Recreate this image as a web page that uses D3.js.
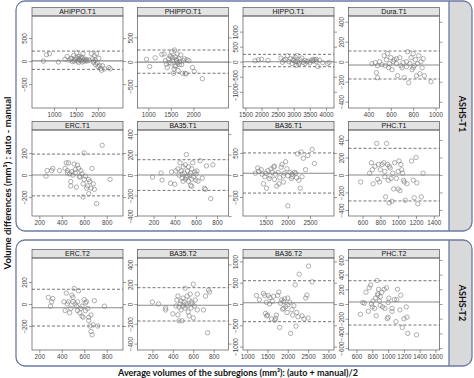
<!DOCTYPE html>
<html><head><meta charset="utf-8">
<script src="https://cdn.jsdelivr.net/npm/d3@7"></script>
<style>body{margin:0;background:#fff}svg{display:block}</style>
</head><body>
<svg id="c" width="474" height="378"></svg>
<script>
const panelNames = ["AHIPPO.T1","PHIPPO.T1","HIPPO.T1","Dura.T1","ERC.T1","BA35.T1","BA36.T1","PHC.T1","ERC.T2","BA35.T2","BA36.T2","PHC.T2"];
const groupLabels = ["ASHS-T1","ASHS-T2"];
const xDomains = [[500,2570],[760,2780],[1425,4250],[220,1036],[135,945],[48,908],[988,3042],[443,1464],[135,945],[54,945],[897,3137],[499,1651]];
const yDomains = [[-1020,980],[-953,940],[-1540,1520],[-463,457],[-373,409],[-400,440],[-930,1020],[-469,514],[-418,418],[-465,465],[-1080,1080],[-626,626]];
const xTickValues = [[1000,1500,2000],[1000,1500,2000],[1500,2000,2500,3000,3500,4000],[400,600,800,1000],[200,400,600,800],[200,400,600,800],[1500,2000,2500],[600,800,1000,1200,1400],[200,400,600,800],[200,400,600,800],[1000,1500,2000,2500,3000],[600,800,1000,1200,1400,1600]];
const yTickValues = [[-500,0,500],[-500,0,500],[-1000,-500,0,500,1000],[-400,-200,0,200,400],[-200,0,200],[-400,-200,0,200,400],[-500,0,500],[-400,-200,0,200,400],[-200,0,200],[-400,-200,0,200,400],[-1000,-500,0,500,1000],[-600,-400,-200,0,200,400,600]];
const meanDiff = [5,-10,0,-33,0,0,40,0,-34,-13,30,27];
const upperLoA = [217,240,245,107,190,150,500,305,134,165,547,317];
const lowerLoA = [-180,-238,-167,-173,-190,-150,-410,-297,-200,-172,-415,-286];

const ahippoT1 = [[760,0],[830,140],[900,160],[1100,-20],[1250,40],[1300,100],[1350,20],[1400,60],[1420,-10],[1450,120],[1480,30],[1500,80],[1520,180],[1540,0],[1550,50],[1570,100],[1580,20],[1600,60],[1620,10],[1640,-20],[1650,70],[1660,160],[1680,0],[1700,40],[1720,10],[1750,0],[1800,20],[1850,160],[1880,50],[1900,-30],[1920,120],[1940,20],[1950,-80],[1970,160],[1980,-40],[2000,-120],[2020,60],[2040,-100],[2060,-160],[2080,-200],[2100,-100],[2150,-170],[2250,-140],[2280,-170],[1560,-30],[1460,0],[1380,50],[1620,90],[1750,30],[1900,0]];
const phippoT1 = [[960,50],[1030,-100],[1150,80],[1300,150],[1350,160],[1380,20],[1400,-50],[1420,-120],[1450,60],[1480,120],[1500,-30],[1520,200],[1540,80],[1550,20],[1560,-240],[1580,240],[1600,100],[1610,-80],[1620,40],[1640,160],[1650,-20],[1660,-180],[1680,60],[1700,0],[1720,140],[1740,-60],[1760,-240],[1780,20],[1800,60],[1820,-240],[1840,-250],[1860,40],[1900,20],[1980,-120],[2020,-200],[2200,-350],[1570,-150],[1590,-100],[1630,20],[1690,-60],[1460,-20],[1500,100]];
const hippoT1 = [[1800,30],[1900,60],[2000,80],[2200,40],[2600,120],[2650,-20],[2700,50],[2750,80],[2800,200],[2850,0],[2900,100],[2950,-60],[3000,40],[3050,150],[3080,-120],[3100,200],[3120,0],[3150,-80],[3200,60],[3250,120],[3300,-20],[3350,40],[3400,0],[3450,20],[3500,-40],[3550,30],[3600,80],[3650,60],[3700,0],[3750,-160],[3800,50],[3900,-30],[4050,-60],[4100,-20],[3180,-40],[3050,0],[2980,80],[3350,-60],[3600,20],[3700,80]];
const duraT1 = [[430,-20],[460,-10],[480,-40],[470,-110],[480,-160],[500,0],[520,-30],[540,60],[550,-40],[560,20],[570,80],[580,-60],[590,-20],[600,40],[610,-80],[620,0],[630,20],[650,-20],[660,-140],[680,40],[690,-40],[700,-60],[710,-10],[720,-160],[740,-50],[750,100],[760,-210],[770,-20],[780,40],[790,-80],[800,80],[810,-40],[820,20],[830,-140],[840,-20],[850,60],[860,-120],[870,0],[880,-60],[890,30],[900,-140],[960,-200],[740,0],[800,-60],[650,30]];
const ercT1 = [[260,-10],[270,40],[310,40],[320,60],[380,40],[430,60],[440,110],[450,20],[460,110],[470,10],[480,-60],[490,30],[500,0],[510,100],[520,50],[530,-110],[540,90],[550,60],[560,-20],[570,40],[580,10],[590,-80],[600,200],[600,-40],[610,-10],[620,-120],[630,-100],[640,-40],[650,-60],[660,-120],[670,60],[680,-80],[690,-130],[710,-260],[760,270],[830,-40],[590,-200],[640,-170],[560,-10],[520,20],[480,-100],[450,40]];
const ba35T1 = [[190,-20],[270,20],[280,-50],[360,-80],[370,30],[400,-90],[410,40],[430,60],[440,0],[450,120],[460,40],[470,-30],[480,-60],[480,80],[490,20],[500,-40],[500,100],[510,200],[510,-20],[520,40],[530,-60],[530,80],[540,0],[550,-100],[550,20],[560,60],[560,-40],[570,120],[580,-20],[590,30],[600,-50],[610,40],[620,-60],[640,140],[660,-30],[680,-130],[690,-140],[700,90],[740,-230],[760,100],[470,10],[520,-10],[560,-110],[600,10]];
const ba36T1 = [[1270,40],[1320,160],[1340,80],[1400,120],[1420,20],[1450,-200],[1480,-40],[1500,40],[1520,-300],[1550,100],[1580,-80],[1600,-20],[1620,140],[1650,60],[1680,180],[1700,-100],[1720,20],[1750,-250],[1780,60],[1800,-200],[1820,-60],[1850,180],[1870,240],[1900,-20],[1920,40],[1950,300],[1980,140],[2000,-20],[2000,-700],[2050,60],[2080,-80],[2100,-40],[2150,60],[2180,40],[2200,-60],[2220,480],[2250,-120],[2280,-300],[2300,520],[2320,-40],[2350,380],[2400,120],[2450,440],[2550,580],[2600,260],[1700,200],[1900,-160],[2100,20]];
const phcT1 = [[580,-80],[680,20],[700,140],[710,60],[720,-100],[740,100],[760,360],[770,-50],[780,120],[790,-80],[800,60],[820,120],[840,140],[850,40],[860,-250],[870,360],[880,120],[890,-60],[900,-320],[910,80],[920,-40],[930,-300],[940,20],[950,-160],[960,140],[980,-40],[1000,-160],[1010,160],[1020,-180],[1030,120],[1040,60],[1050,20],[1060,-60],[1070,-80],[1080,-290],[1100,-100],[1150,160],[1170,-60],[1180,-260],[1200,200],[1210,-90],[1220,-330],[1260,-250],[1280,20],[900,100],[1000,40],[850,-20]];
const ercT2 = [[280,60],[300,-20],[310,20],[320,50],[420,20],[430,-60],[440,100],[450,0],[460,20],[470,-80],[480,-40],[490,80],[500,20],[510,140],[520,0],[530,-20],[540,20],[550,120],[560,-80],[570,-40],[580,-110],[590,-120],[600,40],[610,-60],[620,20],[630,-40],[640,-150],[650,-200],[660,-250],[670,-280],[680,-190],[690,30],[640,-120],[720,-200],[780,-20],[500,60],[580,-20],[610,10],[660,-100],[540,-60]];
const ba35T2 = [[200,20],[260,0],[330,-60],[330,-40],[400,-100],[430,-20],[440,40],[450,80],[460,-30],[470,0],[480,-60],[490,-170],[500,60],[500,-20],[510,20],[520,-40],[520,160],[530,0],[540,80],[550,-80],[560,40],[570,100],[580,-40],[590,0],[600,200],[600,-140],[610,-20],[620,40],[640,100],[640,-60],[700,-60],[720,80],[740,-290],[750,140],[760,120],[480,30],[540,-20],[560,-120],[580,20],[460,-170],[450,-110]];
const ba36T2 = [[1230,200],[1300,100],[1400,250],[1430,200],[1450,-220],[1470,40],[1480,-280],[1500,-260],[1520,200],[1560,150],[1600,-350],[1620,60],[1650,180],[1680,-380],[1700,-340],[1720,-260],[1750,200],[1780,280],[1800,-550],[1820,20],[1850,100],[1870,-120],[1900,60],[1920,120],[1950,-60],[1980,-200],[2000,140],[2050,40],[2070,-690],[2100,-130],[2120,-260],[2150,-40],[2180,450],[2200,-520],[2220,-200],[2250,-300],[2280,700],[2350,-280],[2400,-350],[2440,140],[2470,210],[2500,-330],[2510,890],[2600,520],[1900,-100],[2000,-20],[1550,0]];
const phcT2 = [[650,-140],[680,20],[700,10],[720,160],[750,-100],[760,220],[780,260],[790,0],[800,-40],[810,40],[830,-60],[840,80],[850,-160],[860,320],[870,120],[880,200],[890,40],[900,-20],[920,160],[930,-40],[950,200],[960,-60],[980,220],[990,-200],[1000,-180],[1010,80],[1050,-60],[1080,60],[1100,-240],[1110,60],[1120,200],[1150,-80],[1160,120],[1180,-320],[1200,-200],[1230,-40],[1240,-180],[1250,-400],[1360,-420],[870,140],[900,100],[1000,20],[1050,-100]];
const panelPoints = [ahippoT1,phippoT1,hippoT1,duraT1,ercT1,ba35T1,ba36T1,phcT1,ercT2,ba35T2,ba36T2,phcT2];

const svg = d3.select("#c");
const tickFont = "Liberation Sans, Arial, sans-serif";
const titleFont = "Lato, 'Open Sans', sans-serif";
const frameColor = "#6b79a6";

// group frames with side strips
const groups = [{y0:1, y1:231}, {y0:240, y1:366}];
const defs = svg.append("defs");
defs.append("clipPath").attr("id","stripClip").append("rect").attr("x",449).attr("y",0).attr("width",40).attr("height",400);
groups.forEach((g,i) => {
  svg.append("rect").attr("x",16).attr("y",g.y0).attr("width",456).attr("height",g.y1-g.y0)
    .attr("rx",9).attr("fill","#fff");
  svg.append("rect").attr("x",16).attr("y",g.y0).attr("width",456).attr("height",g.y1-g.y0)
    .attr("rx",9).attr("fill","#d9d9d9").attr("clip-path","url(#stripClip)");
  svg.append("rect").attr("x",16).attr("y",g.y0).attr("width",456).attr("height",g.y1-g.y0)
    .attr("rx",9).attr("fill","none").attr("stroke",frameColor).attr("stroke-width",1.3);
  svg.append("line").attr("x1",449).attr("x2",449).attr("y1",g.y0).attr("y2",g.y1)
    .attr("stroke",frameColor).attr("stroke-width",1.3);
  const cy = (g.y0+g.y1)/2 - (i===0?2:0);
  svg.append("text").attr("transform",`translate(458.5,${cy}) rotate(90)`)
    .attr("text-anchor","middle").attr("font-family",titleFont).attr("font-weight","bold")
    .attr("font-size",9).attr("fill","#111").text(groupLabels[i]);
});

const colX = [32, 137.5, 243, 348.5];
const panelW = 91;
const rowY = [[16,108],[130,216],[258,350]];
const stripH = 8.5;

panelNames.forEach((name, i) => {
  const col = i % 4, row = Math.floor(i / 4);
  const left = colX[col], right = left + panelW;
  const top = rowY[row][0], bottom = rowY[row][1];
  const x = d3.scaleLinear().domain(xDomains[i]).range([left, right]);
  const y = d3.scaleLinear().domain(yDomains[i]).range([bottom, top]);
  const g = svg.append("g");

  // strip
  g.append("rect").attr("x",left).attr("y",top-stripH).attr("width",panelW).attr("height",stripH)
    .attr("fill","#e3e3e3").attr("stroke","#555").attr("stroke-width",0.7);
  g.append("text").attr("x",(left+right)/2).attr("y",top-1.6).attr("text-anchor","middle")
    .attr("font-family",tickFont).attr("font-size",7).attr("fill","#111").text(name);

  // reference lines
  g.append("line").attr("x1",left).attr("x2",right).attr("y1",y(meanDiff[i])).attr("y2",y(meanDiff[i]))
    .attr("stroke","#8a8a8a").attr("stroke-width",1.1);
  [upperLoA[i], lowerLoA[i]].forEach(v => {
    g.append("line").attr("x1",left).attr("x2",right).attr("y1",y(v)).attr("y2",y(v))
      .attr("stroke","#666").attr("stroke-width",0.9).attr("stroke-dasharray","3,2");
  });

  // points
  g.selectAll("circle").data(panelPoints[i]).join("circle")
    .attr("cx",d=>x(d[0])).attr("cy",d=>y(d[1])).attr("r",2.2)
    .attr("fill","none").attr("stroke","#7a7a7a").attr("stroke-width",0.6);

  // panel border
  g.append("rect").attr("x",left).attr("y",top).attr("width",panelW).attr("height",bottom-top)
    .attr("fill","none").attr("stroke","#555").attr("stroke-width",0.7);

  // x axis
  const xa = d3.axisBottom(x).tickValues(xTickValues[i]).tickSize(3).tickPadding(1.5).tickFormat(d3.format("d"));
  const gx = g.append("g").attr("transform",`translate(0,${bottom})`).call(xa);
  gx.select(".domain").remove();
  gx.selectAll("line").attr("stroke","#555").attr("stroke-width",0.6);
  gx.selectAll("text").attr("font-family",tickFont).attr("font-size",6.3).attr("fill","#444");

  // y axis (left, labels rotated)
  const ya = d3.axisLeft(y).tickValues(yTickValues[i]).tickSize(3).tickFormat(d3.format("d"));
  const gy = g.append("g").attr("transform",`translate(${left},0)`).call(ya);
  gy.select(".domain").remove();
  gy.selectAll("line").attr("stroke","#555").attr("stroke-width",0.6);
  gy.selectAll("text").attr("x",null).attr("dy",null)
    .attr("transform","translate(-5,0) rotate(-90)")
    .attr("text-anchor","middle").attr("y",0)
    .attr("font-family",tickFont).attr("font-size",6.3).attr("fill","#444");
  // right ticks
  const yr = d3.axisRight(y).tickValues(yTickValues[i]).tickSize(3).tickFormat("");
  const gyr = g.append("g").attr("transform",`translate(${right},0)`).call(yr);
  gyr.select(".domain").remove();
  gyr.selectAll("line").attr("stroke","#555").attr("stroke-width",0.6);
});

// axis titles
svg.append("text").attr("transform","translate(11,183) rotate(-90)").attr("text-anchor","middle")
  .attr("font-family",titleFont).attr("font-weight","bold").attr("font-size",9.5).attr("fill","#111")
  .text("Volume differences (mm³) : auto - manual");
svg.append("text").attr("x",238).attr("y",376).attr("text-anchor","middle")
  .attr("font-family",titleFont).attr("font-weight","bold").attr("font-size",9).attr("fill","#111")
  .text("Average volumes of the subregions (mm³): (auto + manual)/2");
</script>
</body></html>
